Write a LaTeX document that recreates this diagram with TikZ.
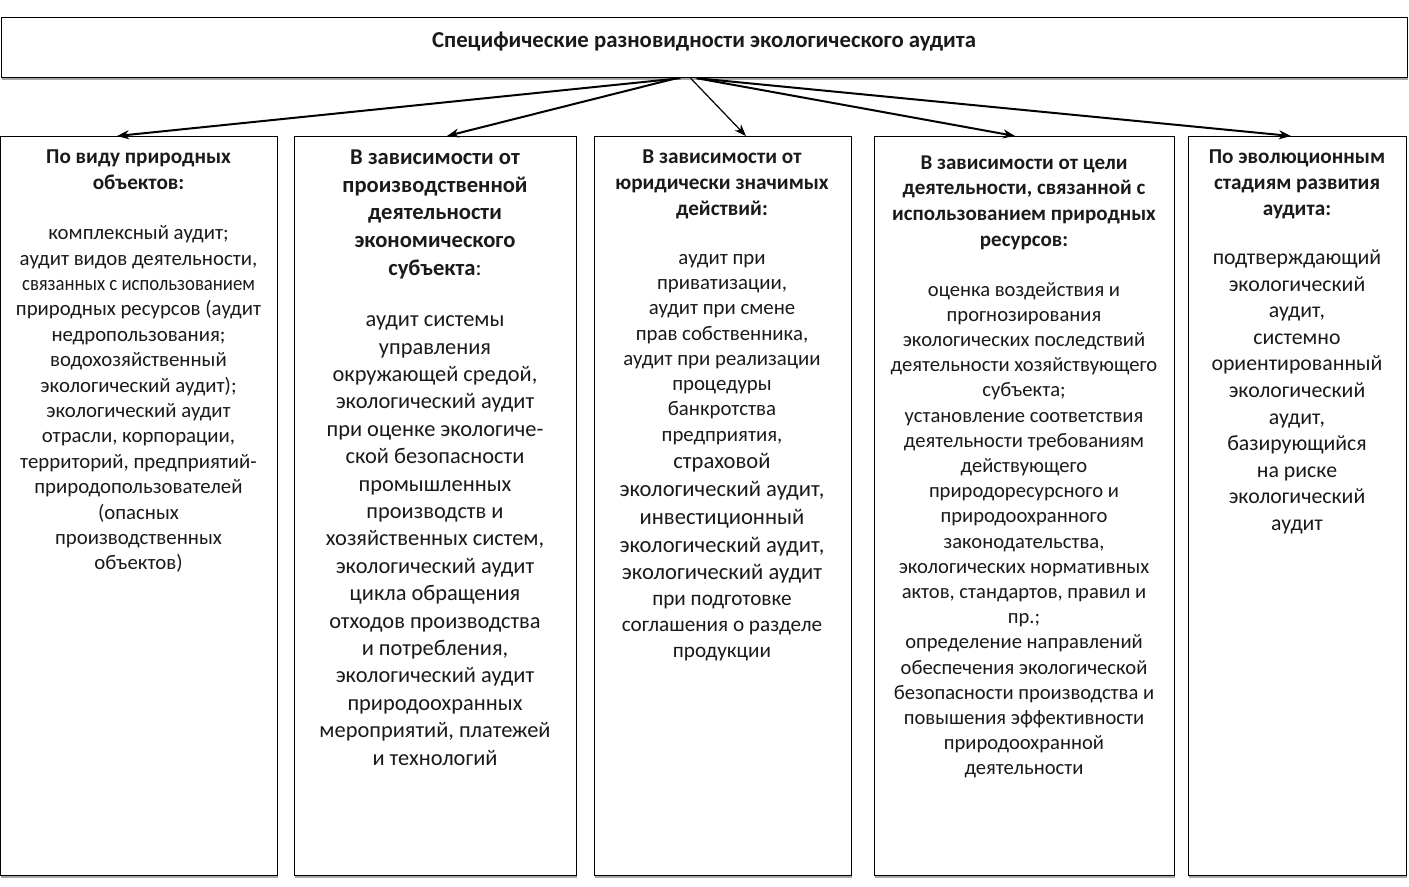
\documentclass[tikz,border=0pt]{standalone}
\usepackage{fontspec}
\usepackage{graphicx}
\setmainfont{Carlito}
\usetikzlibrary{arrows.meta}
\definecolor{ink}{HTML}{1A1A1A}
\tikzset{
  frame/.style={draw=black, line width=0.6pt, fill=white, inner sep=0pt, anchor=north west},
  txt/.style={anchor=north, align=center, inner sep=0pt, text=ink},
  arr/.style={draw=black, line width=1pt, -{Stealth[length=6pt,width=4.5pt]}},
  thinarr/.style={draw=black, line width=0.6pt, -{Stealth[length=6pt,width=4.5pt]}},
  shadowline/.style={draw=gray!70, line width=0.8pt}
}
\newcommand{\fs}[2]{\fontsize{#1pt}{#2pt}\selectfont}
\newcommand{\st}{\rule{0pt}{1em}}
\begin{document}
\begin{tikzpicture}[x=0.5pt,y=-0.5pt]
\useasboundingbox (0,0) rectangle (1409,887);
% top box
\node[frame, minimum width=703pt, minimum height=30pt] (top) at (1,17) {};
\draw[shadowline] (2,79) -- (1408,79);
\node[txt, font=\bfseries\fs{11.4}{13.5}] (title) at (704,24.5) {\st Специфические разновидности экологического аудита};
% boxes
\node[frame, minimum width=138.5pt, minimum height=369.5pt] (b1) at (0,136) {};
\node[frame, minimum width=141pt, minimum height=369.5pt] (b2) at (294,136) {};
\node[frame, minimum width=128.5pt, minimum height=369.5pt] (b3) at (594,136) {};
\node[frame, minimum width=150pt, minimum height=369.5pt] (b4) at (874,136) {};
\node[frame, minimum width=109pt, minimum height=369.5pt] (b5) at (1188,136) {};
\draw[shadowline] (1,877) -- (278,877);
\draw[shadowline] (295,877) -- (577,877);
\draw[shadowline] (595,877) -- (852,877);
\draw[shadowline] (875,877) -- (1175,877);
\draw[shadowline] (1189,877) -- (1407,877);
% arrows
\draw[arr] ([xshift=-12pt]top.south) -- ([xshift=58.5pt]b1.north west);
\draw[arr] ([xshift=-14pt]top.south) -- ([xshift=76.5pt]b2.north west);
\draw[thinarr] ([xshift=-7pt]top.south) -- ([xshift=76pt]b3.north west);
\draw[arr] ([xshift=-4pt]top.south) -- ([xshift=70.5pt]b4.north west);
\draw[arr] ([xshift=-4pt]top.south) -- ([xshift=51.5pt]b5.north west);
% box 1
\node[txt, font=\bfseries\fs{10.6}{13}] (h1) at (138.5,141.7) {\st По виду природных\\объектов:};
\node[txt, font=\fs{10.4}{12.7}] (t1) at (138.5,218.5) {\st комплексный аудит;\\аудит видов деятельности,\\\scalebox{0.9}[1]{связанных с использованием}\\природных ресурсов (аудит\\недропользования;\\водохозяйственный\\экологический аудит);\\экологический аудит\\отрасли, корпорации,\\территорий, предприятий-\\природопользователей\\(опасных\\производственных\\объектов)};
% box 2
\node[txt, font=\bfseries\fs{11.3}{13.85}] (h2) at (435,141.6) {\st В зависимости от\\производственной\\деятельности\\экономического\\субъекта{\mdseries:}};
\node[txt, font=\fs{11.2}{13.7}] (t2) at (435,303.8) {\st аудит системы\\управления\\окружающей средой,\\экологический аудит\\при оценке экологиче-\\ской безопасности\\промышленных\\производств и\\хозяйственных систем,\\экологический аудит\\цикла обращения\\отходов производства\\и потребления,\\экологический аудит\\природоохранных\\мероприятий, платежей\\и технологий};
% box 3
\node[txt, font=\bfseries\fs{10.6}{13}] (h3) at (722,141.7) {\st В зависимости от\\юридически значимых\\действий:};
\node[txt, font=\fs{10.4}{12.65}] (t3a) at (722,243) {\st аудит при\\приватизации,\\аудит при смене\\прав собственника,\\аудит при реализации\\процедуры\\банкротства\\предприятия,};
\node[txt, font=\fs{11.3}{13.9}] (t3b) at (722,445.6) {\st страховой\\экологический аудит,\\инвестиционный\\экологический аудит,\\экологический аудит};
\node[txt, font=\fs{10.6}{13}] (t3c) at (722,583.7) {\st при подготовке\\соглашения о разделе\\продукции};
% box 4
\node[txt, font=\bfseries\fs{10.5}{12.85}] (h4) at (1024,147.8) {\st В зависимости от цели\\деятельности, связанной с\\использованием природных\\ресурсов:};
\node[txt, font=\fs{10.3}{12.6}] (t4) at (1024,275.1) {\st оценка воздействия и\\прогнозирования\\экологических последствий\\деятельности хозяйствующего\\субъекта;\\установление соответствия\\деятельности требованиям\\действующего\\природоресурсного и\\природоохранного\\законодательства,\\экологических нормативных\\актов, стандартов, правил и\\пр.;\\определение направлений\\обеспечения экологической\\безопасности производства и\\повышения эффективности\\природоохранной\\деятельности};
% box 5
\node[txt, font=\bfseries\fs{10.6}{13}] (h5) at (1297,141.7) {\st По эволюционным\\стадиям развития\\аудита:};
\node[txt, font=\fs{10.9}{13.3}] (t5) at (1297,242.2) {\st подтверждающий\\экологический\\аудит,\\системно\\ориентированный\\экологический\\аудит,\\базирующийся\\на риске\\экологический\\аудит};
\end{tikzpicture}
\end{document}
